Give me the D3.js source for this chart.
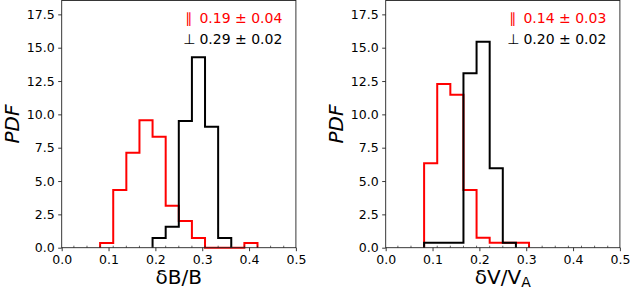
<!DOCTYPE html>
<html><head><meta charset="utf-8">
<script src="https://cdn.jsdelivr.net/npm/d3@7"></script>
<style>body{margin:0;background:#fff}svg{display:block;font-family:"DejaVu Sans",sans-serif}</style>
</head><body><svg id="c" width="630" height="290"></svg>
<script>
// ---- data ----
const xTicks = [0.0, 0.1, 0.2, 0.3, 0.4, 0.5];
const yTicks = [0.0, 2.5, 5.0, 7.5, 10.0, 12.5, 15.0, 17.5];
const minorTicks = [0.026, 0.054, 0.082, 0.110, 0.138, 0.166, 0.194, 0.222, 0.250, 0.278, 0.306, 0.334, 0.362, 0.390, 0.418, 0.446, 0.474];

const leftRedEdges   = [0.082, 0.110, 0.138, 0.166, 0.194, 0.222, 0.250, 0.278, 0.306, 0.334, 0.362, 0.390, 0.418];
const leftRedPdf     = [0.36, 4.33, 7.13, 9.55, 8.33, 3.15, 2.0, 0.72, 0, 0, 0, 0.36];
const leftBlackEdges = [0.194, 0.222, 0.250, 0.278, 0.306, 0.334, 0.362];
const leftBlackPdf   = [0.72, 1.58, 9.5, 14.28, 9.08, 0.72];

const rightRedEdges   = [0.082, 0.110, 0.138, 0.166, 0.194, 0.222, 0.250, 0.278, 0.306];
const rightRedPdf     = [6.33, 12.28, 11.48, 4.33, 0.75, 0.375, 0.375, 0.375];
const rightBlackEdges = [0.082, 0.110, 0.138, 0.166, 0.194, 0.222, 0.250, 0.278];
const rightBlackPdf   = [0.375, 0.375, 0.375, 13.08, 15.45, 5.95, 0.375];

const panels = [
  {left: 61.7, xlabel: "δB/B", sub: null, par: "0.19 ± 0.04", perp: "0.29 ± 0.02",
   series: [{edges: leftRedEdges, pdf: leftRedPdf, color: "#ff0000"}, {edges: leftBlackEdges, pdf: leftBlackPdf, color: "#000000"}]},
  {left: 385.7, xlabel: "δV/V", sub: "A", par: "0.14 ± 0.03", perp: "0.20 ± 0.02",
   series: [{edges: rightRedEdges, pdf: rightRedPdf, color: "#ff0000"}, {edges: rightBlackEdges, pdf: rightBlackPdf, color: "#000000"}]}
];

const svg = d3.select("#c");
const W = 234.2, plotTop = 0.5, plotBottom = 247.7;
const y = d3.scaleLinear().domain([0, 18.54]).range([plotBottom, plotTop]);

panels.forEach(p => {
  const x = d3.scaleLinear().domain([0, 0.5]).range([p.left, p.left + W]);
  const g = svg.append("g");

  // histograms (step outlines)
  p.series.forEach(s => {
    const pts = [[s.edges[0], 0]];
    s.pdf.forEach((v, i) => { pts.push([s.edges[i], v]); pts.push([s.edges[i + 1], v]); });
    pts.push([s.edges[s.edges.length - 1], 0]);
    g.append("path")
      .attr("d", d3.line().x(d => x(d[0])).y(d => y(d[1]))(pts))
      .attr("fill", "none").attr("stroke", s.color).attr("stroke-width", 2)
      .attr("stroke-linejoin", "miter");
  });

  // frame
  g.append("rect").attr("x", p.left).attr("y", plotTop).attr("width", W).attr("height", plotBottom - plotTop)
    .attr("fill", "none").attr("stroke", "#222").attr("stroke-width", 0.9);

  // axes
  const xa = g.append("g").attr("transform", `translate(0,${plotBottom})`)
    .call(d3.axisBottom(x).tickValues(xTicks).tickFormat(d3.format(".1f")).tickSize(3.5).tickPadding(3.5));
  const ya = g.append("g").attr("transform", `translate(${p.left},0)`)
    .call(d3.axisLeft(y).tickValues(yTicks).tickFormat(d3.format(".1f")).tickSize(3.5).tickPadding(3.5));
  [xa, ya].forEach(a => {
    a.select(".domain").remove();
    a.selectAll("line").attr("stroke", "#222").attr("stroke-width", 0.9);
    a.selectAll("text").attr("font-size", 12.5).attr("fill", "#000").attr("font-family", "DejaVu Sans");
  });
  // minor ticks (inward)
  g.selectAll(".mt").data(minorTicks).enter().append("line")
    .attr("x1", d => x(d)).attr("x2", d => x(d)).attr("y1", plotBottom).attr("y2", plotBottom - 2)
    .attr("stroke", "#222").attr("stroke-width", 0.7);

  // labels
  const xl = g.append("text").attr("x", x(0.25)).attr("y", 284).attr("text-anchor", "middle")
    .attr("font-size", 20).attr("fill", "#000").text(p.xlabel);
  if (p.sub) xl.append("tspan").attr("font-size", 14).attr("dy", 3).text(p.sub);

  g.append("text").attr("transform", `translate(${p.left - 42.5},${(plotTop + plotBottom) / 2}) rotate(-90)`)
    .attr("text-anchor", "middle").attr("font-size", 20).attr("font-style", "italic").attr("fill", "#000").text("PDF");

  // annotations
  const rx = p.left + W - 13.5;
  g.append("text").attr("x", p.left + 123.5).attr("y", 22.7).attr("font-size", 14)
    .attr("fill", "#ff0000").text("∥");
  g.append("text").attr("x", rx).attr("y", 22.7).attr("text-anchor", "end").attr("font-size", 14)
    .attr("fill", "#ff0000").text(p.par);
  g.append("text").attr("x", p.left + 121.5).attr("y", 44.3).attr("font-size", 14)
    .attr("fill", "#000").text("⊥");
  g.append("text").attr("x", rx).attr("y", 44.3).attr("text-anchor", "end").attr("font-size", 14)
    .attr("fill", "#000").text(p.perp);
});
</script></body></html>
